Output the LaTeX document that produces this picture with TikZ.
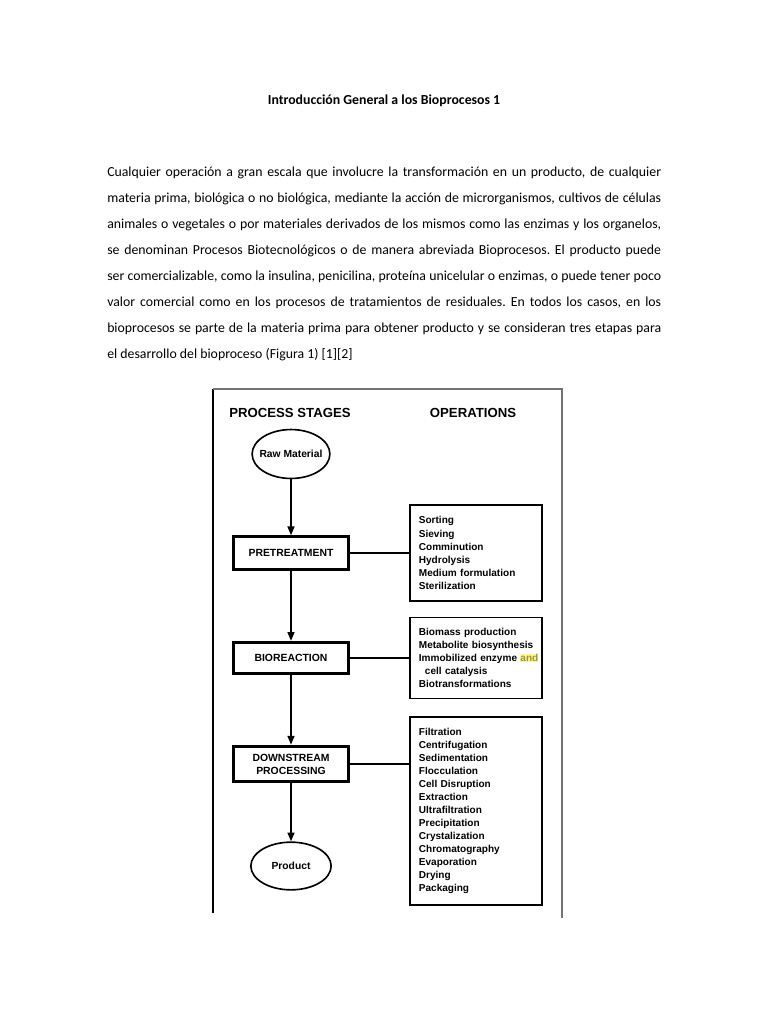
\documentclass[tikz,border=0pt]{standalone}
\usepackage{fontspec}
\setmainfont{Carlito}
\newfontfamily\figfont{Liberation Sans}
\usepackage{tikz}
\usetikzlibrary{positioning,arrows.meta,shapes.geometric}
\frenchspacing

\begin{document}
\begin{tikzpicture}[
    x=0.797pt, y=-0.797pt,
    bodyline/.style={anchor=west, inner sep=0pt, font=\fontsize{11}{13}\selectfont},
    header/.style={font=\figfont\bfseries\fontsize{10.5}{13}\selectfont, inner sep=0pt},
    stage/.style={draw, line width=2.3pt, rectangle, align=center, minimum width=91pt,
        font=\figfont\bfseries\fontsize{8.3}{10.4}\selectfont, inner sep=2pt},
    endpoint/.style={draw, line width=1.3pt, ellipse, inner xsep=-3.5pt, inner ysep=0pt,
        font=\figfont\bfseries\fontsize{8.2}{9}\selectfont},
    opsbox/.style={draw, line width=1.2pt, rectangle, align=left, text width=91pt,
        inner xsep=7pt, minimum width=105pt, font=\figfont\bfseries\fontsize{8}{10.4}\selectfont},
    flow/.style={-{Triangle[length=7pt,width=5.5pt]}, line width=1.3pt},
    link/.style={line width=1.1pt}
]
\useasboundingbox (0,0) rectangle (768,1024);
\fill[white] (0,0) rectangle (768,1024);

\node[font=\bfseries\fontsize{11}{13}\selectfont] (title) at (384,101) {Introducción General a los Bioprocesos 1};

\node[bodyline] (l1) at (107,173) {\makebox[441.5pt][s]{Cualquier operación a gran escala que involucre la transformación en un producto, de cualquier}};
\node[bodyline] (l2) at (107,199) {\makebox[441.5pt][s]{materia prima, biológica o no biológica, mediante la acción de microrganismos, cultivos de células}};
\node[bodyline] (l3) at (107,225) {\makebox[441.5pt][s]{animales o vegetales o por materiales derivados de los mismos como las enzimas y los organelos,}};
\node[bodyline] (l4) at (107,251) {\makebox[441.5pt][s]{se denominan Procesos Biotecnológicos o de manera abreviada Bioprocesos. El producto puede}};
\node[bodyline] (l5) at (107,277) {\makebox[441.5pt][s]{ser comercializable, como la insulina, penicilina, proteína unicelular o enzimas, o puede tener poco}};
\node[bodyline] (l6) at (107,303) {\makebox[441.5pt][s]{valor comercial como en los procesos de tratamientos de residuales. En todos los casos, en los}};
\node[bodyline] (l7) at (107,329) {\makebox[441.5pt][s]{bioprocesos se parte de la materia prima para obtener producto y se consideran tres etapas para}};
\node[bodyline] (l8) at (107,355) {el desarrollo del bioproceso (Figura 1) [1][2]};

\draw[line width=0.9pt] (213,913) -- (213,389);
\draw[line width=0.9pt, black!55] (213,389) -- (562,389) -- (562,918);

\node[header] (stages) at (290,413) {PROCESS STAGES};
\node[header] (operations) at (473,413) {OPERATIONS};

\node[endpoint, minimum width=62pt, minimum height=39pt] (raw) at (291,454) {Raw Material};
\node[stage, minimum height=26pt] (pre) at (291,553) {PRETREATMENT};
\node[stage, minimum height=25pt] (bio) at (291,658) {BIOREACTION};
\node[stage, minimum height=28.5pt] (down) at (291,764) {DOWNSTREAM\\PROCESSING};
\node[endpoint, minimum width=64pt, minimum height=38pt] (prod) at (291,866) {Product};

\node[opsbox, minimum height=76.5pt] (ops1) at (476,553) {Sorting\\Sieving\\Comminution\\Hydrolysis\\Medium formulation\\Sterilization};
\node[opsbox, minimum height=64.5pt] (ops2) at (476,658) {Biomass production\\\mbox{Metabolite biosynthesis}\\\mbox{Immobilized enzyme {\setlength{\fboxsep}{0pt}\colorbox{yellow!45}{\textcolor{black!45!yellow}{and}}}}\\\hspace*{0.6em}cell catalysis\\Biotransformations};
\node[opsbox, minimum height=150pt] (ops3) at (476,811) {Filtration\\Centrifugation\\Sedimentation\\Flocculation\\Cell Disruption\\Extraction\\Ultrafiltration\\Precipitation\\Crystalization\\Chromatography\\Evaporation\\Drying\\Packaging};

\draw[flow] (raw) -- (pre);
\draw[flow] (pre) -- (bio);
\draw[flow] (bio) -- (down);
\draw[flow] (down) -- (prod);

\draw[link] (pre.east) -- (ops1.west);
\draw[link] (bio.east) -- (ops2.west);
\draw[link] (down.east) -- (down.east -| ops3.west);
\end{tikzpicture}
\end{document}
